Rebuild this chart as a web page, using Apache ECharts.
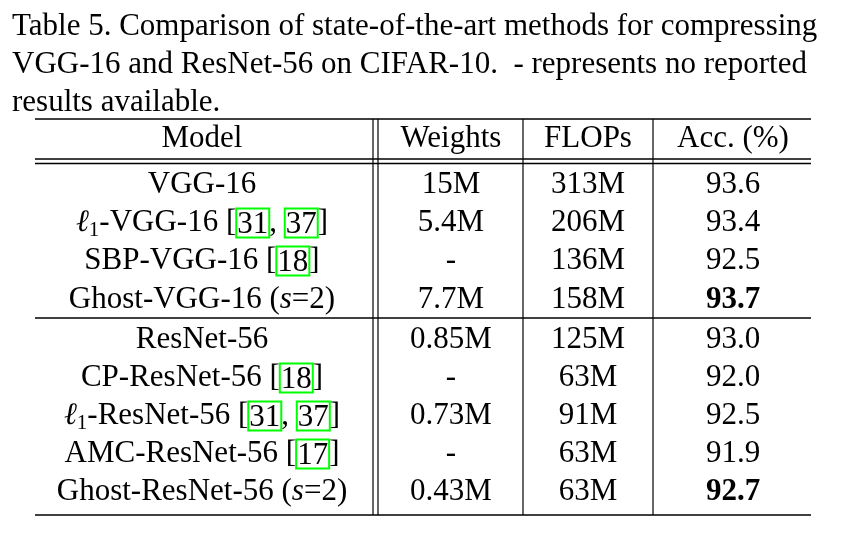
<!DOCTYPE html>
<html><head><meta charset="utf-8">
<script src="https://cdn.jsdelivr.net/npm/echarts@6/dist/echarts.min.js"></script>
<style>html,body{margin:0;background:#fff}#container{width:848px;height:533px}</style>
</head><body><div id="container"></div>
<script>
var caption = [
	'Table 5. Comparison of state-of-the-art methods for compressing',
	'VGG-16 and ResNet-56 on CIFAR-10.  - represents no reported',
	'results available.'
];
var headers = ['Model', 'Weights', 'FLOPs', 'Acc. (%)'];
// {l|ℓ} sub, {c|..} 引用框
var models = [
	'VGG-16',
	'{l|ℓ}{s|1}-VGG-16 [{c|31}, {c|37}]',
	'SBP-VGG-16 [{c|18}]',
	'Ghost-VGG-16 ({i|s}=2)',
	'ResNet-56',
	'CP-ResNet-56 [{c|18}]',
	'{l|ℓ}{s|1}-ResNet-56 [{c|31}, {c|37}]',
	'AMC-ResNet-56 [{c|17}]',
	'Ghost-ResNet-56 ({i|s}=2)'
];
var weights = ['15M', '5.4M', '-', '7.7M', '0.85M', '-', '0.73M', '-', '0.43M'];
var flops = ['313M', '206M', '136M', '158M', '125M', '63M', '91M', '63M', '63M'];
var acc = ['93.6', '93.4', '92.5', '93.7', '93.0', '92.0', '92.5', '91.9', '92.7'];
var bestRows = [3, 8];

var font = '"Liberation Serif", "DejaVu Serif", serif';
var fs = 31;
var colX = [202, 451, 588, 733];
var rowY = [185, 223, 261, 300, 340, 378, 416, 454, 492];
var rich = {
	l: {fontFamily: font, fontSize: fs, fontStyle: 'italic'},
	s: {fontFamily: font, fontSize: 21, verticalAlign: 'bottom', padding: [14, 0, 0, 0]},
	i: {fontFamily: font, fontSize: fs, fontStyle: 'italic'},
	c: {fontFamily: font, fontSize: fs, borderColor: '#00ff00', borderWidth: 2, padding: [1, 1, -3, 1]},
	b: {fontFamily: font, fontSize: fs, fontWeight: 'bold'}
};

var els = [];
function txt(x, y, s, align) {
	els.push({type: 'text', x: x, y: y, style: {
		text: s, fontFamily: font, fontSize: fs, fill: '#000', rich: rich,
		align: align || 'center', verticalAlign: 'middle'
	}});
}
function line(x1, y1, x2, y2, w) {
	els.push({type: 'line', shape: {x1: x1, y1: y1, x2: x2, y2: y2}, style: {stroke: '#000', lineWidth: w || 1.3}});
}

caption.forEach(function (c, i) { txt(12, 27 + i * 38, c, 'left'); });
headers.forEach(function (h, i) { txt(colX[i], 139, h); });
for (var r = 0; r < models.length; r++) {
	txt(colX[0], rowY[r], models[r]);
	txt(colX[1], rowY[r], weights[r]);
	txt(colX[2], rowY[r], flops[r]);
	txt(colX[3], rowY[r], bestRows.indexOf(r) >= 0 ? '{b|' + acc[r] + '}' : acc[r]);
}
// 横线
line(35, 119, 811, 119);
line(35, 159, 811, 159);
line(35, 163.5, 811, 163.5);
line(35, 318, 811, 318);
line(35, 515, 811, 515);
// 竖线
[373, 378, 523, 653].forEach(function (x) { line(x, 119, x, 515, 1.2); });

var myChart = echarts.init(document.getElementById('container'));
myChart.setOption({animation: false, graphic: {elements: els}});
</script>
</body></html>
